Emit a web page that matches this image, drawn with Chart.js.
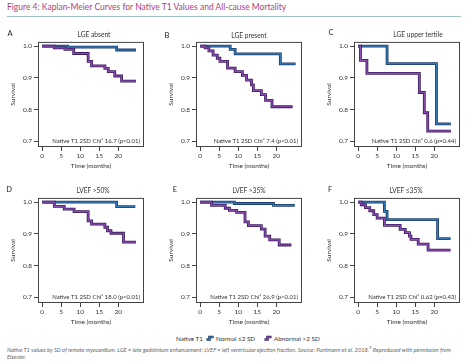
<!DOCTYPE html>
<html>
<head>
<meta charset="utf-8">
<script src="https://cdn.jsdelivr.net/npm/chart.js@4.4.1/dist/chart.umd.min.js"></script>
<style>
    body { margin: 0; width: 474px; height: 364px; overflow: hidden; position: relative; background: #fff; font-family: Lato, "Open Sans", sans-serif; color: #333; }
    #fig-title { position: absolute; left: 7px; top: 2px; font-size: 8.5px; color: #b23e7c; white-space: nowrap; }
    #rule { position: absolute; left: 7px; top: 16px; width: 454px; height: 1px; background: #9fc3c6; }
    canvas { position: absolute; }
    .lbl { position: absolute; transform: translate(-50%, -50%); white-space: nowrap; }
    .letter { font-size: 7.5px; color: #222; }
    .ptitle { font-size: 6.6px; color: #333; }
    .leg { position: absolute; top: 338px; transform: translateY(-50%); font-size: 6.3px; color: #333; white-space: nowrap; }
    .leg svg { display: block; }
    #note { position: absolute; left: 7px; top: 344px; font-size: 5.65px; line-height: 7.3px; font-style: italic; color: #666; white-space: nowrap; }
</style>
</head>
<body>
<div id="fig-title">Figure 4: Kaplan-Meier Curves for Native T1 Values and All-cause Mortality</div>
<div id="rule"></div>
<span class="leg" style="left:176px">Native T1</span>
<span class="leg" style="left:206px"><svg width="8" height="6"><polyline points="0.5,4.5 3.5,4.5 3.5,2 7.5,2" fill="none" stroke="#1c3f6e" stroke-width="2.6"/><polyline points="0.5,4.5 3.5,4.5 3.5,2 7.5,2" fill="none" stroke="#3478b8" stroke-width="1.1"/></svg></span>
<span class="leg" style="left:216px">Normal ≤2 SD</span>
<span class="leg" style="left:264px"><svg width="8" height="6"><polyline points="0.5,4.5 3.5,4.5 3.5,2 7.5,2" fill="none" stroke="#3b1b5e" stroke-width="2.6"/><polyline points="0.5,4.5 3.5,4.5 3.5,2 7.5,2" fill="none" stroke="#8e4fb5" stroke-width="1.1"/></svg></span>
<span class="leg" style="left:274px">Abnormal &gt;2 SD</span>
<div id="note">Native T1 values by SD of remote myocardium. LGE = late gadolinium enhancement; LVEF = left ventricular ejection fraction. Source: Puntmann et al, 2018.<sup style="font-size:4.3px">9</sup> Reproduced with permission from<br>Elsevier.</div>
<script>
// --- DATA ---
const panelLetters = ['A', 'B', 'C', 'D', 'E', 'F'];
const panelTitles = ['LGE absent', 'LGE present', 'LGE upper tertile', 'LVEF >50%', 'LVEF >35%', 'LVEF ≤35%'];
const chiNotes = [
    'Native T1 2SD Chi² 16.7 (p<0.01)',
    'Native T1 2SD Chi² 7.4 (p<0.01)',
    'Native T1 2SD Chi² 0.6 (p=0.44)',
    'Native T1 2SD Chi² 18.0 (p<0.01)',
    'Native T1 2SD Chi² 26.9 (p>0.01)',
    'Native T1 2SD Chi² 0.62 (p=0.43)'
];
const xTicks = [0, 5, 10, 15, 20];
const yTicks = [0.7, 0.8, 0.9, 1.0];

// normal <=2 SD: time (months) and survival
const normA_t = [0, 6.7, 19.6, 24.7];
const normA_s = [1, 0.997, 0.988, 0.988];
const normB_t = [0, 7.9, 9.2, 21.1, 25.1];
const normB_s = [1, 0.99, 0.976, 0.944, 0.944];
const normC_t = [0, 7.6, 20.6, 24.4];
const normC_s = [1, 0.945, 0.755, 0.755];
const normD_t = [0, 19.6, 24.5];
const normD_s = [1, 0.986, 0.986];
const normE_t = [0, 9.0, 19.3, 24.9];
const normE_s = [1, 0.996, 0.99, 0.99];
const normF_t = [0, 6.9, 7.6, 20.9, 24.3];
const normF_s = [1, 0.971, 0.945, 0.885, 0.885];

// abnormal >2 SD
const abnA_t = [0, 3.2, 6.0, 8.3, 12.1, 13.0, 16.5, 17.4, 19.1, 20.9, 24.7];
const abnA_s = [1, 0.995, 0.99, 0.977, 0.952, 0.938, 0.930, 0.92, 0.906, 0.890, 0.890];
const abnB_t = [0, 1.3, 2.3, 3.4, 4.5, 5.2, 7.2, 9.2, 11.1, 12.2, 13.5, 14.0, 16.1, 17.2, 18.9, 24.3];
const abnB_s = [1, 0.995, 0.985, 0.972, 0.962, 0.952, 0.931, 0.92, 0.908, 0.893, 0.878, 0.860, 0.847, 0.829, 0.809, 0.809];
const abnC_t = [0, 0.6, 2.3, 16.1, 17.4, 18.3, 24.4];
const abnC_s = [1, 0.955, 0.914, 0.854, 0.79, 0.732, 0.732];
const abnD_t = [0, 3.2, 5.8, 8.4, 12.1, 13.0, 16.5, 17.2, 18.1, 21.4, 24.7];
const abnD_s = [1, 0.987, 0.978, 0.97, 0.941, 0.931, 0.921, 0.91, 0.902, 0.874, 0.874];
const abnE_t = [0, 3.0, 6.6, 7.7, 9.6, 11.8, 12.7, 16.1, 17.1, 18.3, 20.8, 24.0];
const abnE_s = [1, 0.99, 0.981, 0.974, 0.968, 0.938, 0.926, 0.915, 0.893, 0.881, 0.865, 0.865];
const abnF_t = [0, 0.8, 1.9, 3.05, 4.1, 5.0, 6.9, 11.05, 12.4, 13.5, 13.9, 15.8, 18.4, 24.3];
const abnF_s = [1, 0.992, 0.983, 0.973, 0.961, 0.950, 0.927, 0.914, 0.904, 0.893, 0.883, 0.868, 0.849, 0.849];

const normT = [normA_t, normB_t, normC_t, normD_t, normE_t, normF_t];
const normS = [normA_s, normB_s, normC_s, normD_s, normE_s, normF_s];
const abnT = [abnA_t, abnB_t, abnC_t, abnD_t, abnE_t, abnF_t];
const abnS = [abnA_s, abnB_s, abnC_s, abnD_s, abnE_s, abnF_s];

// --- LAYOUT ---
const boxLeft = [38, 196, 354];
const boxTop = [40, 196];
const letterPos = [[10, 33], [167, 35], [331, 32], [9, 189], [175, 189], [330, 189]];
const titlePos = [[94, 34], [249, 35], [418, 34], [93, 190], [249, 190], [406, 190]];

Chart.defaults.font.family = 'Lato, "Open Sans", sans-serif';
Chart.defaults.color = '#333';

const boxNote = {
    id: 'boxNote',
    afterDatasetsDraw(chart, args, opts) {
        const { ctx, chartArea: a } = chart;
        ctx.save();
        ctx.strokeStyle = '#444';
        ctx.lineWidth = 1;
        ctx.strokeRect(a.left + 0.5, a.top + 0.5, a.width - 1, a.height - 1);
        ctx.font = '6px Lato, "Open Sans", sans-serif';
        ctx.fillStyle = '#333';
        ctx.textAlign = 'right';
        ctx.textBaseline = 'middle';
        ctx.fillText(opts.text, a.right - 4, chart.scales.y.getPixelForValue(0.7));
        ctx.restore();
    }
};

function stepLine(ts, ss, color, width, order) {
    return {
        data: ts.map((t, k) => ({ x: t, y: ss[k] })),
        borderColor: color,
        borderWidth: width,
        stepped: true,
        pointRadius: 0,
        fill: false,
        order: order
    };
}

function addLabel(cls, text, pos) {
    const d = document.createElement('div');
    d.className = 'lbl ' + cls;
    d.textContent = text;
    d.style.left = pos[0] + 'px';
    d.style.top = pos[1] + 'px';
    document.body.appendChild(d);
}

for (let i = 0; i < 6; i++) {
    const col = i % 3, row = Math.floor(i / 3);
    const cv = document.createElement('canvas');
    cv.width = 150;
    cv.height = 137;
    cv.style.left = (boxLeft[col] - 38) + 'px';
    cv.style.top = (boxTop[row] - 4) + 'px';
    document.body.appendChild(cv);

    addLabel('letter', panelLetters[i], letterPos[i]);
    addLabel('ptitle', panelTitles[i], titlePos[i]);

    const tickFont = { size: 6.5 };
    new Chart(cv, {
        type: 'line',
        data: {
            datasets: [
                stepLine(normT[i], normS[i], '#1c3f6e', 2.8, 3),
                stepLine(normT[i], normS[i], '#3478b8', 1.2, 2),
                stepLine(abnT[i], abnS[i], '#3b1b5e', 2.8, 1),
                stepLine(abnT[i], abnS[i], '#8e4fb5', 1.2, 0)
            ]
        },
        options: {
            responsive: false,
            animation: false,
            events: [],
            layout: { autoPadding: false, padding: { left: 0, top: 4, right: 6, bottom: 0 } },
            plugins: { legend: { display: false }, tooltip: { enabled: false }, boxNote: { text: chiNotes[i] } },
            scales: {
                x: {
                    type: 'linear', min: -1.1, max: 26.8,
                    afterBuildTicks: s => { s.ticks = xTicks.map(v => ({ value: v })); },
                    afterFit: s => { s.height = 26; },
                    grid: { drawOnChartArea: false, drawTicks: true, tickLength: 4, color: '#444' },
                    border: { display: false },
                    ticks: { font: tickFont, color: '#333', padding: 1, maxRotation: 0 },
                    title: { display: true, text: 'Time (months)', font: tickFont, color: '#333', padding: { top: 0, bottom: 3 } }
                },
                y: {
                    type: 'linear', min: 0.682, max: 1.0136,
                    afterBuildTicks: s => { s.ticks = yTicks.map(v => ({ value: v })); },
                    afterFit: s => { s.width = 38; },
                    grid: { drawOnChartArea: false, drawTicks: true, tickLength: 4, color: '#444' },
                    border: { display: false },
                    ticks: { font: tickFont, color: '#333', padding: 2, callback: v => v.toFixed(1) },
                    title: { display: true, text: 'Survival', font: tickFont, color: '#333', padding: { top: 9, bottom: 0 } }
                }
            }
        },
        plugins: [boxNote]
    });
}
</script>
</body>
</html>
